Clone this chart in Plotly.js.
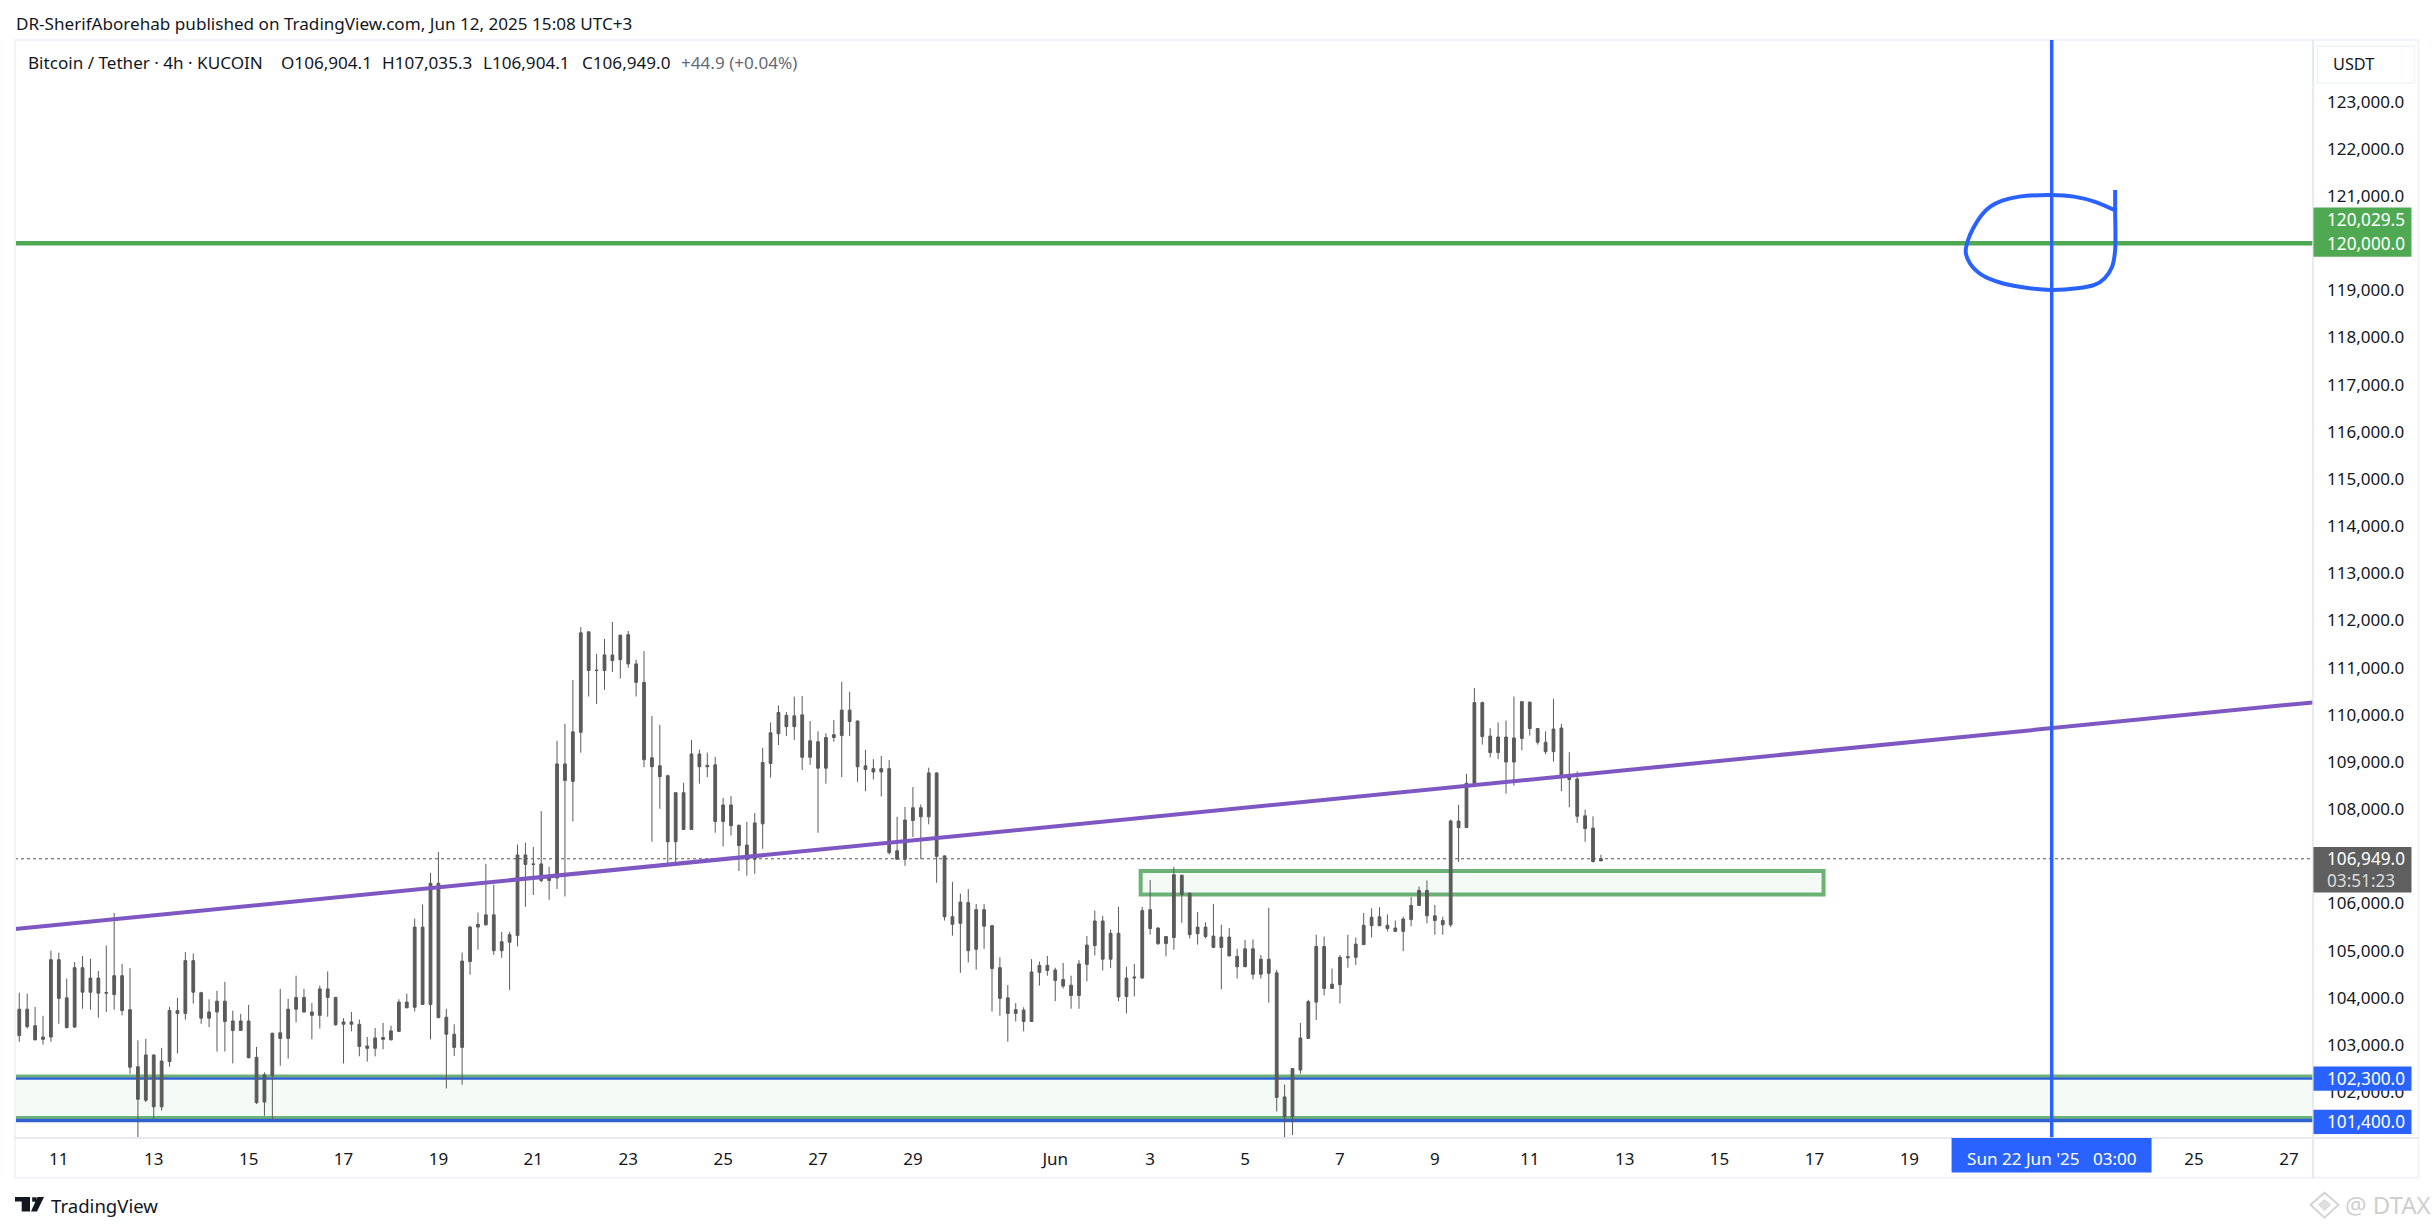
<!DOCTYPE html>
<html><head><meta charset="utf-8">
<script src="https://cdn.plot.ly/plotly-3.0.1.min.js"></script>
<style>html,body{margin:0;padding:0;background:#fff}</style></head>
<body><div id="chart" style="width:2435px;height:1231px"></div>
<script>
const barTimes = [
"2025-05-10 07:00","2025-05-10 11:00","2025-05-10 15:00","2025-05-10 19:00","2025-05-10 23:00",
"2025-05-11 03:00","2025-05-11 07:00","2025-05-11 11:00","2025-05-11 15:00","2025-05-11 19:00","2025-05-11 23:00",
"2025-05-12 03:00","2025-05-12 07:00","2025-05-12 11:00","2025-05-12 15:00","2025-05-12 19:00","2025-05-12 23:00",
"2025-05-13 03:00","2025-05-13 07:00","2025-05-13 11:00","2025-05-13 15:00","2025-05-13 19:00","2025-05-13 23:00",
"2025-05-14 03:00","2025-05-14 07:00","2025-05-14 11:00","2025-05-14 15:00","2025-05-14 19:00","2025-05-14 23:00",
"2025-05-15 03:00","2025-05-15 07:00","2025-05-15 11:00","2025-05-15 15:00","2025-05-15 19:00","2025-05-15 23:00",
"2025-05-16 03:00","2025-05-16 07:00","2025-05-16 11:00","2025-05-16 15:00","2025-05-16 19:00","2025-05-16 23:00",
"2025-05-17 03:00","2025-05-17 07:00","2025-05-17 11:00","2025-05-17 15:00","2025-05-17 19:00","2025-05-17 23:00",
"2025-05-18 03:00","2025-05-18 07:00","2025-05-18 11:00","2025-05-18 15:00","2025-05-18 19:00","2025-05-18 23:00",
"2025-05-19 03:00","2025-05-19 07:00","2025-05-19 11:00","2025-05-19 15:00","2025-05-19 19:00","2025-05-19 23:00",
"2025-05-20 03:00","2025-05-20 07:00","2025-05-20 11:00","2025-05-20 15:00","2025-05-20 19:00","2025-05-20 23:00",
"2025-05-21 03:00","2025-05-21 07:00","2025-05-21 11:00","2025-05-21 15:00","2025-05-21 19:00","2025-05-21 23:00",
"2025-05-22 03:00","2025-05-22 07:00","2025-05-22 11:00","2025-05-22 15:00","2025-05-22 19:00","2025-05-22 23:00",
"2025-05-23 03:00","2025-05-23 07:00","2025-05-23 11:00","2025-05-23 15:00","2025-05-23 19:00","2025-05-23 23:00",
"2025-05-24 03:00","2025-05-24 07:00","2025-05-24 11:00","2025-05-24 15:00","2025-05-24 19:00","2025-05-24 23:00",
"2025-05-25 03:00","2025-05-25 07:00","2025-05-25 11:00","2025-05-25 15:00","2025-05-25 19:00","2025-05-25 23:00",
"2025-05-26 03:00","2025-05-26 07:00","2025-05-26 11:00","2025-05-26 15:00","2025-05-26 19:00","2025-05-26 23:00",
"2025-05-27 03:00","2025-05-27 07:00","2025-05-27 11:00","2025-05-27 15:00","2025-05-27 19:00","2025-05-27 23:00",
"2025-05-28 03:00","2025-05-28 07:00","2025-05-28 11:00","2025-05-28 15:00","2025-05-28 19:00","2025-05-28 23:00",
"2025-05-29 03:00","2025-05-29 07:00","2025-05-29 11:00","2025-05-29 15:00","2025-05-29 19:00","2025-05-29 23:00",
"2025-05-30 03:00","2025-05-30 07:00","2025-05-30 11:00","2025-05-30 15:00","2025-05-30 19:00","2025-05-30 23:00",
"2025-05-31 03:00","2025-05-31 07:00","2025-05-31 11:00","2025-05-31 15:00","2025-05-31 19:00","2025-05-31 23:00",
"2025-06-01 03:00","2025-06-01 07:00","2025-06-01 11:00","2025-06-01 15:00","2025-06-01 19:00","2025-06-01 23:00",
"2025-06-02 03:00","2025-06-02 07:00","2025-06-02 11:00","2025-06-02 15:00","2025-06-02 19:00","2025-06-02 23:00",
"2025-06-03 03:00","2025-06-03 07:00","2025-06-03 11:00","2025-06-03 15:00","2025-06-03 19:00","2025-06-03 23:00",
"2025-06-04 03:00","2025-06-04 07:00","2025-06-04 11:00","2025-06-04 15:00","2025-06-04 19:00","2025-06-04 23:00",
"2025-06-05 03:00","2025-06-05 07:00","2025-06-05 11:00","2025-06-05 15:00","2025-06-05 19:00","2025-06-05 23:00",
"2025-06-06 03:00","2025-06-06 07:00","2025-06-06 11:00","2025-06-06 15:00","2025-06-06 19:00","2025-06-06 23:00",
"2025-06-07 03:00","2025-06-07 07:00","2025-06-07 11:00","2025-06-07 15:00","2025-06-07 19:00","2025-06-07 23:00",
"2025-06-08 03:00","2025-06-08 07:00","2025-06-08 11:00","2025-06-08 15:00","2025-06-08 19:00","2025-06-08 23:00",
"2025-06-09 03:00","2025-06-09 07:00","2025-06-09 11:00","2025-06-09 15:00","2025-06-09 19:00","2025-06-09 23:00",
"2025-06-10 03:00","2025-06-10 07:00","2025-06-10 11:00","2025-06-10 15:00","2025-06-10 19:00","2025-06-10 23:00",
"2025-06-11 03:00","2025-06-11 07:00","2025-06-11 11:00","2025-06-11 15:00","2025-06-11 19:00","2025-06-11 23:00",
"2025-06-12 03:00","2025-06-12 07:00","2025-06-12 11:00","2025-06-12 15:00"];

const opens = [
103200,103760,103410,103120,103170,104810,104000,103380,104640,104120,
104420,104100,104070,104470,103750,102540,101830,102790,101690,102650,
103730,103670,104790,104110,103570,103700,103930,103510,103310,103510,
102740,101790,102350,103260,103140,103760,104010,103700,103630,104190,
104010,103440,103490,103440,102980,102930,103160,103110,103290,103910,
103800,105500,103860,106430,103590,103230,102950,104770,105500,105550,
105760,105000,105180,105320,107030,106840,106840,106490,106540,108960,
108590,109630,111760,110950,110940,111270,111170,111700,111080,110690,
109090,108920,108710,107310,108350,107570,109170,108930,108940,107740,
108090,107660,107240,106940,107690,108970,109600,109990,109750,110000,
109100,109430,108870,109520,109560,110100,109870,108920,108860,108790,
108860,107120,106940,107760,108030,107840,108770,107010,105720,105580,
106020,105030,105870,105530,104640,104000,103670,103740,103500,104540,
104690,104590,104390,104270,104050,104710,105110,105630,104820,105370,
104030,104420,104420,105870,105480,105150,105280,106600,106220,105360,
105500,105310,105070,105290,104880,104660,105040,104500,104820,104530,
101900,101480,102470,103140,103910,105090,104200,104280,104850,104860,
105130,105530,105720,105540,105480,105410,105660,105960,106280,105740,
105640,105550,107750,107610,108540,110260,109550,109200,109530,109000,
109500,110270,109710,109420,109220,109720,108720,108640,107860,107600,
106904.1];
const highs = [
104110,104090,103810,103620,105000,104960,104410,104760,104890,104830,
104570,105110,105800,104720,104630,103100,103130,102800,102940,103810,
104000,104970,104940,104130,103970,104150,104340,103730,103660,103850,
102960,102420,103260,104190,103980,104470,104190,103890,104260,104560,
104020,103570,103700,103540,103170,103360,103470,103410,103970,104090,
105680,105980,106650,107090,103770,103440,104960,105530,105810,106840,
106400,105400,105400,107250,107290,107200,107960,106780,109450,109810,
110740,111860,111770,111290,111610,111970,111700,111780,111170,111350,
109980,109790,108730,108360,108560,109470,109260,109200,109110,108240,
108280,107670,107730,107920,109300,109840,110200,110060,110390,110400,
109870,109650,109610,109890,110700,110490,109880,109260,109060,109130,
109040,107840,108050,108470,108100,108880,108780,107020,106460,106210,
106310,105990,105990,105550,104860,104270,103890,103800,104820,104770,
104890,104640,104740,104470,104800,105310,105850,105740,105450,105930,
104660,104720,105930,106500,105500,105310,106780,106610,106230,105820,
105600,105990,105550,105480,105040,105230,105240,104910,105910,104590,
102160,102510,103470,103960,105340,105300,104620,104910,105340,105280,
105800,105900,105920,105770,105640,105720,106140,106360,106490,105970,
105720,107780,108090,108750,110570,110280,109720,109840,109880,110390,
110290,110280,109720,109650,110340,109810,109210,108800,107990,107850,
107035.3];
const lows = [
103070,103350,103100,103010,103070,103450,103350,103370,103770,103750,
103580,103700,103750,103630,102390,101050,101790,101440,101610,102540,
102820,103540,103880,103450,103380,102860,102860,102610,103300,102720,
101750,101500,101420,102560,102710,103480,103690,103120,103350,103600,
103410,102610,103290,102760,102650,102760,102910,103100,103280,103780,
103710,103850,103120,103570,102080,102770,102160,104490,105020,105530,
104910,104850,104170,105090,105930,106180,106450,106080,106310,106150,
107740,109200,110390,110230,110530,110910,110770,111000,110390,108890,
107310,108010,106800,106850,107560,107560,108540,108680,107500,107210,
107440,106690,106590,106630,107160,108670,109360,109550,109470,108830,
108940,107500,108540,109430,108680,109550,108580,108380,108630,108270,
107040,106930,106800,107410,106940,107680,106440,105640,105320,104530,
104750,104600,105040,103710,103620,103070,103500,103290,103490,104260,
104470,103930,104200,103770,103770,104350,104900,104580,104630,103930,
103670,104030,104410,105340,105120,104880,105020,105590,105260,105130,
105260,105070,104180,104880,104410,104660,104390,104410,103900,101590,
101040,101090,102390,103130,103530,104050,104190,103880,104640,104700,
105120,105280,105520,105410,105400,104990,105520,105950,105580,105340,
105340,105500,106880,107600,108520,109370,109100,109060,108330,108500,
109250,109560,109370,109170,109010,108380,108040,107710,107310,106870,
106904.1];
const closes = [
103760,103390,103110,103170,104810,103990,103370,104640,104120,104420,
104100,104110,104470,103730,102530,101850,102790,101690,102660,103730,
103670,104790,104120,103570,103700,103930,103500,103310,103510,102730,
101780,102370,103250,103140,103760,104010,103700,103630,104190,104010,
103430,103490,103440,102970,102930,103150,103120,103300,103910,103790,
105500,103860,106430,103580,103230,102950,104780,105500,105560,105760,
105000,105190,105340,107030,106830,106830,106490,106540,108960,108610,
109640,111740,110940,110940,111270,111150,111690,111080,110690,109050,
108900,108690,107310,108350,107570,109170,108900,108900,107740,108090,
107650,107230,106930,107710,108990,109620,110050,109750,109980,109100,
109450,108870,109520,109580,110100,109860,108900,108840,108790,108860,
107080,106940,107770,108030,107840,108770,107000,105720,105560,106030,
105000,105870,105520,104620,103990,103670,103750,103500,104550,104690,
104580,104370,104250,104050,104720,105120,105630,104820,105370,104020,
104420,104440,105850,105470,105150,105300,106610,106190,105340,105500,
105300,105070,105290,104890,104660,105040,104500,104820,104520,101890,
101480,102500,103150,103920,105090,104200,104290,104860,104870,105140,
105540,105710,105530,105470,105410,105670,105960,106280,105740,105640,
105550,107750,107610,108550,110260,109540,109200,109530,109000,109510,
110280,109710,109420,109220,109700,108720,108630,107850,107590,106890,
106949.0];

const dayTickTimes = ["2025-05-11 03:00","2025-05-13 03:00","2025-05-15 03:00","2025-05-17 03:00","2025-05-19 03:00","2025-05-21 03:00","2025-05-23 03:00","2025-05-25 03:00","2025-05-27 03:00","2025-05-29 03:00","2025-06-01 03:00","2025-06-03 03:00","2025-06-05 03:00","2025-06-07 03:00","2025-06-09 03:00","2025-06-11 03:00","2025-06-13 03:00","2025-06-15 03:00","2025-06-17 03:00","2025-06-19 03:00","2025-06-25 03:00","2025-06-27 03:00"];
const dayTickLabels = ["11","13","15","17","19","21","23","25","27","29","Jun","3","5","7","9","11","13","15","17","19","25","27"];
const priceTicks = [102000,103000,104000,105000,106000,108000,109000,110000,111000,112000,113000,114000,115000,116000,117000,118000,119000,121000,122000,123000];

const trendTimes = ["2025-05-10 04:50","2025-06-27 15:10"];
const trendPrices = [105460,110265];
const circleTimes = ["2025-06-23 11:06","2025-06-23 11:06","2025-06-23 11:06","2025-06-23 09:33","2025-06-23 05:45","2025-06-23 00:36","2025-06-22 15:57","2025-06-22 03:00","2025-06-21 15:48","2025-06-21 02:00","2025-06-20 15:36","2025-06-20 09:36","2025-06-20 07:30","2025-06-20 08:42","2025-06-20 11:18","2025-06-20 15:36","2025-06-20 19:56","2025-06-21 02:00","2025-06-21 10:36","2025-06-22 03:00","2025-06-22 14:12","2025-06-23 00:36","2025-06-23 11:48"];
const circlePrices = [121128,120683,119856,119503,119256,119115,119044,119009,119044,119150,119327,119574,119821,120068,120316,120598,120775,120902,120987,121022,120987,120881,120683];

const fontFamily = '"Noto Sans", sans-serif';
const ink = '#131722', candle = '#5a5a5a', green = '#4fa953', zoneGreen = '#6cb277', blue = '#2962ff', purple = '#7e57c2';
const L = 15, R = 2313.5, T = 40, B = 1138.3;
const px = x => (x - L) / (R - L), py = y => 1 - (y - T) / (B - T);
const pRect = (x0, y0, x1, y1, fill, line, lw) => ({type:'rect', xref:'paper', yref:'paper', x0:px(x0), x1:px(x1), y0:py(y0), y1:py(y1), fillcolor:fill||'rgba(0,0,0,0)', line:{color:line||'rgba(0,0,0,0)', width:lw||0}, layer:'above'});
const pPath = (d, fill, line, lw) => ({type:'path', xref:'paper', yref:'paper', path:d.replace(/(-?[\d.]+),(-?[\d.]+)/g, (m,a,b)=>px(+a)+','+py(+b)), fillcolor:fill||'rgba(0,0,0,0)', line:{color:line||'rgba(0,0,0,0)', width:lw||0}, layer:'above'});
const note = (x, y, text, size, color, anchor, extra) => Object.assign({xref:'paper', yref:'paper', x:px(x), y:py(y), text, showarrow:false, xanchor:anchor||'left', yanchor:'middle', align:anchor||'left', font:{family:fontFamily, size, color}, borderpad:0}, extra||{});
const hLine = (price, color, w, dash, layer) => ({type:'line', xref:'paper', x0:0, x1:1, yref:'y', y0:price, y1:price, line:{color, width:w, dash:dash||'solid'}, layer:layer||'below'});

const shapes = [
  // base zone
  {type:'rect', xref:'paper', x0:0, x1:1, yref:'y', y0:101460, y1:102340, fillcolor:'#f4faf5', line:{width:0}, layer:'below'},
  hLine(102345, zoneGreen, 3), hLine(101465, zoneGreen, 3),
  hLine(102290, '#2f62d0', 2.5), hLine(101400, '#2f62d0', 3.5),
  // resistance box
  {type:'rect', xref:'x', yref:'y', x0:'2025-06-02 22:12', x1:'2025-06-17 07:36', y0:106190, y1:106690, fillcolor:'#f4faf5', line:{color:zoneGreen, width:4}, layer:'below'},
  hLine(106949, '#555555', 1, 'dot'),
  hLine(120000, green, 4.5),
  // panel frame
  pRect(15, 40, 2419, 1178, null, '#f0f3fa', 2),
  {type:'line', xref:'x', yref:'paper', x0:'2025-06-22 03:00', x1:'2025-06-22 03:00', y0:0, y1:1, line:{color:blue, width:3.5}, layer:'above'},
  pRect(2313.5, 40, 2313.5, 1178, null, '#e0e3eb', 1.5),
  pRect(15, 1138.3, 2419, 1138.3, null, '#e0e3eb', 1.5),
  // axis labels
  pRect(2318, 46, 2415, 83, '#fff', '#f0f3fa', 1.5),
  pRect(2314, 207.5, 2412, 256.7, green),
  pRect(2314, 847.3, 2412, 892.7, '#5f5f5f'),
  pRect(2314, 1066.7, 2412, 1091, blue),
  pRect(2314, 1110, 2412, 1134.3, blue),
  pRect(1952, 1138.3, 2152, 1172.7, blue),
  // TradingView logo
  pPath('M15,1197.3 L30,1197.3 L30,1211.7 L21.7,1211.7 L21.7,1201.8 L15,1201.8 Z', '#131722'),
  pPath('M32.2,1197.6 L36.6,1197.6 L36.6,1202 L32.2,1202 Z', '#131722'),
  pPath('M37.5,1197.3 L44,1197.3 L37,1211.7 L31,1211.7 Z', '#131722'),
  // watermark diamond
  pPath('M2325,1193 L2339,1205 L2325,1218 L2311,1205 Z', null, '#d4d4d4', 2),
  pPath('M2325,1200 L2331,1205 L2325,1211 L2319,1205 Z', '#e0e0e0', '#d4d4d4', 1)
];

const annotations = [
  note(15, 23, 'DR-SherifAborehab published on TradingView.com, Jun 12, 2025 15:08 UTC+3', 17.1, ink),
  note(27, 63, 'Bitcoin / Tether · 4h · KUCOIN', 17.1, ink),
  note(280, 63, 'O106,904.1', 17.1, ink),
  note(381, 63, 'H107,035.3', 17.1, ink),
  note(482, 63, 'L106,904.1', 17.1, ink),
  note(581, 63, 'C106,949.0', 17.1, ink),
  note(680, 63, '+44.9 (+0.04%)', 17.1, '#666a75'),
  note(2333, 64.5, 'USDT', 16.3, ink),
  note(2327, 219.5, '120,029.5', 17.2, '#ffffff'),
  note(2327, 244, '120,000.0', 17.2, '#ffffff'),
  note(2327, 859, '106,949.0', 17.2, '#ffffff'),
  note(2327, 881, '03:51:23', 17.2, '#dcdcdc'),
  note(2327, 1079, '102,300.0', 17.2, '#ffffff'),
  note(2327, 1122, '101,400.0', 17.2, '#ffffff'),
  note(2052, 1159, "Sun 22 Jun '25&nbsp;&nbsp;&nbsp;03:00", 17.1, '#ffffff', 'center'),
  note(50.5, 1206, 'TradingView', 18.6, '#131722'),
  note(2345, 1205, '@ DTAX', 24, '#cfcfcf')
];

const data = [
  {type:'scatter', mode:'lines', x:trendTimes, y:trendPrices, line:{color:purple, width:4}, hoverinfo:'skip', showlegend:false},
  {type:'candlestick', x:barTimes, open:opens, high:highs, low:lows, close:closes,
   increasing:{line:{color:candle, width:1}, fillcolor:candle},
   decreasing:{line:{color:candle, width:1}, fillcolor:candle},
   whiskerwidth:0, showlegend:false, hoverinfo:'skip'},
  {type:'scatter', mode:'lines', x:circleTimes, y:circlePrices, line:{color:blue, width:4, shape:'spline', smoothing:0.8}, hoverinfo:'skip', showlegend:false}
];

const layout = {
  width:2435, height:1231, autosize:false,
  margin:{l:L, r:2435-R, t:T, b:1231-B, pad:0},
  paper_bgcolor:'#ffffff', plot_bgcolor:'#ffffff', showlegend:false, hovermode:false, boxgap:0.5,
  font:{family:fontFamily, color:ink},
  xaxis:{type:'date', range:['2025-05-10 04:50','2025-06-27 15:10'], rangeslider:{visible:false},
    tickmode:'array', tickvals:dayTickTimes, ticktext:dayTickLabels, tickfont:{family:fontFamily, size:17, color:ink},
    showgrid:false, zeroline:false, showline:false, ticks:'', ticklabelstandoff:9},
  yaxis:{side:'right', type:'linear', range:[101029,124308], tickmode:'array', tickvals:priceTicks, tickformat:',.1f',
    tickfont:{family:fontFamily, size:17, color:ink}, showgrid:false, zeroline:false, showline:false, ticks:'', ticklabelstandoff:13},
  shapes, annotations
};
Plotly.newPlot('chart', data, layout, {staticPlot:true, displayModeBar:false});
</script></body></html>
